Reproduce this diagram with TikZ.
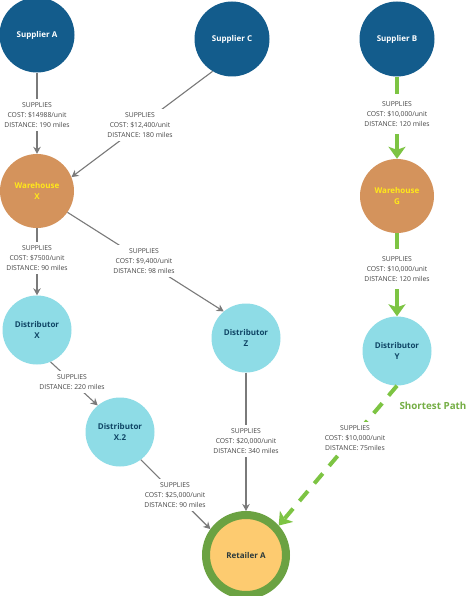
\documentclass[tikz,border=0pt]{standalone}
\usepackage{fontspec}
\setmainfont{Open Sans}
\usetikzlibrary{arrows.meta}
\definecolor{supblue}{HTML}{135C8C}
\definecolor{whorange}{HTML}{D4935C}
\definecolor{whtext}{HTML}{FFE81A}
\definecolor{distcyan}{HTML}{8EDCE6}
\definecolor{disttext}{HTML}{0F4565}
\definecolor{retfill}{HTML}{FDCB70}
\definecolor{retring}{HTML}{6BA242}
\definecolor{rettext}{HTML}{2C3A3C}
\definecolor{pathgreen}{HTML}{7DC443}
\definecolor{sptext}{HTML}{75AE45}
\definecolor{edgegray}{HTML}{7A7A7A}
\definecolor{labelgray}{HTML}{454545}
\tikzset{
  supplier/.style={circle,fill=supblue,minimum size=75pt,inner sep=0pt,text=white,font=\fontsize{8}{11}\selectfont\bfseries,align=center},
  warehouse/.style={circle,fill=whorange,minimum size=74pt,inner sep=0pt,text=whtext,font=\fontsize{8}{11}\selectfont\bfseries,align=center},
  distributor/.style={circle,fill=distcyan,minimum size=69pt,inner sep=0pt,text=disttext,font=\fontsize{8}{11}\selectfont\bfseries,align=center},
  retailer/.style={circle,fill=retfill,draw=retring,line width=8pt,minimum size=80pt,inner sep=0pt,text=rettext,font=\fontsize{8}{11}\selectfont\bfseries,align=center},
  edgelabel/.style={fill=white,text=labelgray,font=\fontsize{6.8}{10.3}\selectfont,align=center,inner sep=3pt},
  greenlabel/.style={edgelabel,inner xsep=3pt,inner ysep=7pt},
  grayedge/.style={draw=edgegray,line width=1.1pt,-{Stealth[length=7pt,width=7.5pt]}},
  greenedge/.style={draw=pathgreen,line width=4pt,-{Stealth[length=12pt,width=17pt,inset=3pt]}},
  greendash/.style={greenedge,dash pattern=on 13pt off 10pt}
}
\begin{document}
\begin{tikzpicture}[x=1pt,y=-1pt]
\useasboundingbox (0,0) rectangle (474,596);
\fill[white] (0,0) rectangle (474,596);
% nodes
\node[supplier] (A) at (37,35) {Supplier A};
\node[supplier] (C) at (232,39) {Supplier C};
\node[supplier] (B) at (397,39) {Supplier B};
\node[warehouse] (WX) at (37,191) {Warehouse\\X};
\node[warehouse] (WG) at (397,196) {Warehouse\\G};
\node[distributor] (DX) at (37,330) {Distributor\\X};
\node[distributor] (DZ) at (246,338) {Distributor\\Z};
\node[distributor] (DY) at (397,351) {Distributor\\Y};
\node[distributor] (DX2) at (120,432) {Distributor\\X.2};
\node[retailer] (RA) at (246,555) {Retailer A};
% edges
\draw[grayedge] (A.south) -- (WX.north);
\draw[grayedge] (C.239) -- (WX.22);
\draw[grayedge] (WX.325) -- (DZ.130);
\draw[grayedge] (WX.south) -- (DX.north);
\draw[grayedge] (DX.293) -- (DX2.130);
\draw[grayedge] (DX2.307) -- (RA.144);
\draw[grayedge] (DZ.south) -- (RA.north);
\draw[greenedge] (B.south) -- (WG.north);
\draw[greenedge] (WG.south) -- (DY.north);
\draw[greendash] (DY.south) -- (RA.42);
% labels
\node[edgelabel] (lAWX) at (37,115) {SUPPLIES\\COST: \$14988/unit\\DISTANCE: 190 miles};
\node[edgelabel] (lCWX) at (140,125) {SUPPLIES\\COST: \$12,400/unit\\DISTANCE: 180 miles};
\node[greenlabel] (lBWG) at (397,114) {SUPPLIES\\COST: \$10,000/unit\\DISTANCE: 120 miles};
\node[edgelabel] (lWXDX) at (37,258) {SUPPLIES\\COST: \$7500/unit\\DISTANCE: 90 miles};
\node[edgelabel] (lWXDZ) at (144,261) {SUPPLIES\\COST: \$9,400/unit\\DISTANCE: 98 miles};
\node[greenlabel] (lWGDY) at (397,269) {SUPPLIES\\COST: \$10,000/unit\\DISTANCE: 120 miles};
\node[edgelabel] (lDXDX2) at (72,382) {SUPPLIES\\DISTANCE: 220 miles};
\node[edgelabel] (lDZRA) at (246,441) {SUPPLIES\\COST: \$20,000/unit\\DISTANCE: 340 miles};
\node[edgelabel] (lDX2RA) at (175,495) {SUPPLIES\\COST: \$25,000/unit\\DISTANCE: 90 miles};
\node[edgelabel] (lDYRA) at (355,438) {SUPPLIES\\COST: \$10,000/unit\\DISTANCE: 75miles};
\node[text=sptext,font=\fontsize{9.8}{12}\selectfont\bfseries] (sp) at (433,406) {Shortest Path};
\end{tikzpicture}
\end{document}
